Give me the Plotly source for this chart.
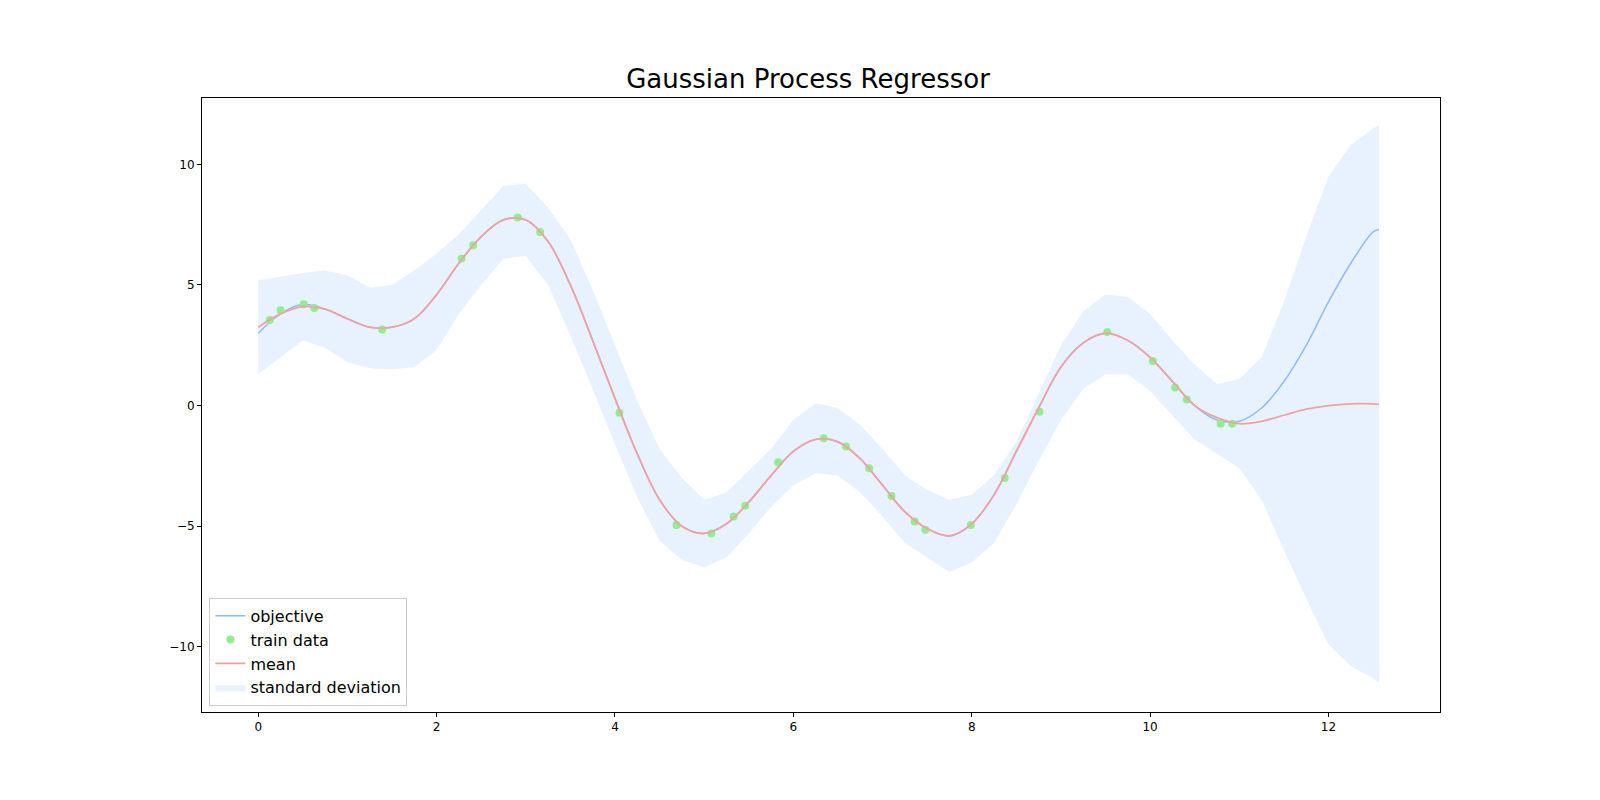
import plotly.graph_objects as go

x_grid = [0, 0.25, 0.5, 0.75, 1.0, 1.25, 1.5, 1.75, 2.0, 2.25, 2.5, 2.75, 3.0, 3.25, 3.5, 3.75,
          4.0, 4.25, 4.5, 4.75, 5.0, 5.25, 5.5, 5.75, 6.0, 6.25, 6.5, 6.75, 7.0, 7.25, 7.5, 7.75,
          8.0, 8.25, 8.5, 8.75, 9.0, 9.25, 9.5, 9.75, 10.0, 10.25, 10.5, 10.75, 11.0, 11.25, 11.5,
          11.75, 12.0, 12.25, 12.5, 12.566]
objective = [3.0, 3.8, 4.2, 4.0, 3.6, 3.25, 3.25, 3.6, 4.6, 5.9, 7.0, 7.7, 7.7, 6.8, 5.0, 2.7,
             0.3, -2.0, -3.9, -5.0, -5.3, -4.9, -4.0, -2.9, -1.9, -1.4, -1.5, -2.2, -3.3, -4.4, -5.1, -5.4,
             -4.9, -3.7, -1.9, -0.1, 1.6, 2.6, 3.0, 2.7, 2.0, 1.0, 0.0, -0.6, -0.65, -0.1, 1.0,
             2.5, 4.3, 5.9, 7.2, 7.3]
mean = [3.25, 3.8, 4.1, 4.0, 3.6, 3.25, 3.25, 3.6, 4.6, 5.9, 7.0, 7.7, 7.7, 6.8, 5.0, 2.7,
        0.3, -2.0, -3.9, -5.0, -5.3, -4.9, -4.0, -2.9, -1.9, -1.4, -1.5, -2.2, -3.3, -4.4, -5.1, -5.4,
        -4.9, -3.7, -1.9, -0.1, 1.6, 2.6, 3.0, 2.7, 2.0, 1.0, 0.0, -0.5, -0.75, -0.65, -0.4,
        -0.15, 0.0, 0.07, 0.07, 0.05]
upper = [5.2, 5.35, 5.5, 5.6, 5.4, 4.9, 5.0, 5.6, 6.3, 7.1, 8.1, 9.1, 9.2, 8.2, 6.9, 4.8,
         2.5, 0.2, -1.8, -3.0, -3.9, -3.6, -2.7, -1.8, -0.6, 0.1, -0.1, -0.8, -1.8, -2.9, -3.5, -3.9,
         -3.7, -2.9, -1.5, 0.5, 2.5, 3.9, 4.6, 4.5, 3.8, 2.7, 1.7, 0.9, 1.1, 2.0, 4.3,
         7.0, 9.5, 10.8, 11.5, 11.6]
lower = [1.3, 2.0, 2.7, 2.4, 1.8, 1.55, 1.5, 1.6, 2.3, 3.8, 5.0, 6.1, 6.2, 5.0, 2.9, 0.7,
         -1.6, -3.8, -5.6, -6.4, -6.7, -6.3, -5.3, -4.2, -3.3, -2.8, -2.9, -3.6, -4.6, -5.7, -6.3, -6.9,
         -6.5, -5.7, -4.1, -2.3, -0.6, 0.7, 1.3, 1.3, 0.6, -0.4, -1.4, -2.0, -2.6, -3.9, -6.0,
         -8.0, -9.9, -10.8, -11.3, -11.5]

train_x = [0.13, 0.25, 0.51, 0.63, 1.39, 2.28, 2.41, 2.91, 3.16, 4.05, 4.69, 5.08, 5.33, 5.46, 5.83,
           6.34, 6.59, 6.85, 7.1, 7.36, 7.48, 7.99, 8.37, 8.76, 9.52, 10.03, 10.28, 10.41, 10.79, 10.92]
train_y = [3.55, 3.95, 4.2, 4.05, 3.15, 6.1, 6.65, 7.8, 7.2, -0.3, -4.95, -5.3, -4.6, -4.15, -2.35,
           -1.35, -1.7, -2.6, -3.75, -4.8, -5.15, -4.95, -3.0, -0.25, 3.05, 1.85, 0.75, 0.25, -0.75, -0.75]

fig = go.Figure()
# band drawn first so lines sit on top; legendrank keeps it last in the legend
fig.add_trace(go.Scatter(x=x_grid + x_grid[::-1], y=upper + lower[::-1], mode="lines",
                         line=dict(width=0), fill="toself", legendrank=4,
                         fillcolor="rgba(214,232,255,0.55)", name="standard deviation"))
fig.add_trace(go.Scatter(x=x_grid, y=objective, mode="lines", name="objective", legendrank=1,
                         line=dict(color="#8cbcf5", width=1.5, shape="spline")))
fig.add_trace(go.Scatter(x=train_x, y=train_y, mode="markers", name="train data", legendrank=2,
                         marker=dict(color="#90ee90", size=8)))
fig.add_trace(go.Scatter(x=x_grid, y=mean, mode="lines", name="mean", legendrank=3,
                         line=dict(color="#f4a0a0", width=1.8, shape="spline")))

axis = dict(showgrid=False, zeroline=False, showline=True, linecolor="black", mirror=True,
            ticks="outside", ticklen=4, tickcolor="black", tickfont=dict(size=12))
fig.update_xaxes(range=[-0.63, 13.25], dtick=2, **axis)
fig.update_yaxes(range=[-12.7, 12.75], tickvals=[-10, -5, 0, 5, 10],
                 ticktext=["\u221210", "\u22125", "0", "5", "10"], **axis)
fig.update_layout(
    width=1600, height=800,
    title=dict(text="Gaussian Process Regressor", x=0.5, y=0.912, xanchor="center", yanchor="middle",
               font=dict(size=26, color="black")),
    font=dict(family="DejaVu Sans", color="black"),
    plot_bgcolor="white", paper_bgcolor="white",
    margin=dict(l=194, r=168, t=90, b=96),
    legend=dict(x=0.006, y=0.01, xanchor="left", yanchor="bottom", bordercolor="#cccccc",
                borderwidth=1, font=dict(size=16), traceorder="normal", bgcolor="white"),
)
fig.write_html("out.html")
